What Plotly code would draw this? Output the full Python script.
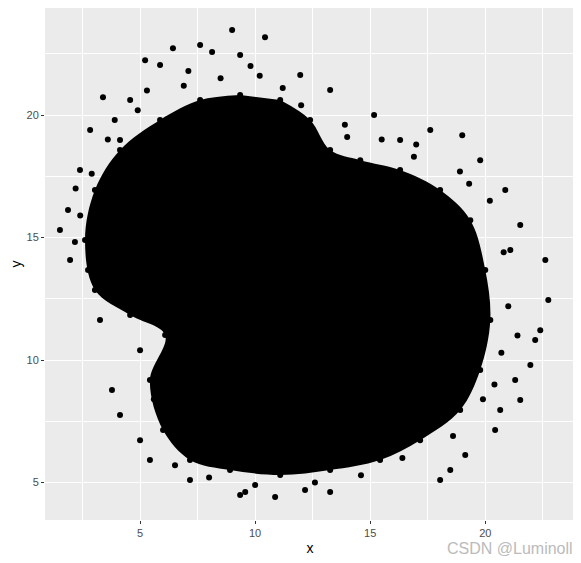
import plotly.graph_objects as go

# dense core outline (data units)
core_x = [9.35, 7.61, 5.87, 4.13, 3.04, 2.61, 3.04, 4.57, 6.09, 5.43, 6.0, 7.17, 8.91, 11.09,
          13.26, 15.43, 17.17, 18.91, 19.78, 20.22, 20.0, 19.35, 18.04, 16.3, 14.57, 13.26,
          12.39, 11.09]
core_y = [20.82, 20.61, 19.8, 18.57, 16.94, 14.9, 12.86, 11.84, 11.02, 9.18, 7.14, 5.92, 5.51,
          5.31, 5.51, 5.92, 6.73, 7.96, 9.59, 11.63, 13.67, 15.71, 16.94, 17.76, 18.16, 18.57,
          19.8, 20.61]

# scattered points around the edge
pts_x = [9.0, 10.43, 6.43, 7.61, 8.13, 9.35, 5.22, 5.87, 4.57, 3.39, 2.83, 2.39, 1.87, 2.17,
         2.83, 2.74, 3.26, 3.78, 4.13, 5.0, 5.43, 6.52, 7.17, 9.35, 9.57, 10.87, 12.17, 13.26,
         18.04, 19.13, 20.43, 21.96, 22.39, 22.74, 22.61, 21.52, 20.87, 19.78, 19.0, 17.61,
         16.3, 15.17, 13.26, 11.96, 18.48, 21.52, 21.3, 3.26, 4.13, 1.52, 1.96, 20.65, 22.17,
         21.09,
         8.5, 10.2, 6.9, 4.9, 3.6, 2.9, 2.4, 3.3, 4.2, 5.0, 5.6, 6.8, 8.0, 10.0, 12.6, 14.6,
         16.4, 18.6, 19.9, 20.7, 21.0, 20.8, 20.2, 18.9, 17.0, 15.5, 13.9, 12.0, 11.2, 7.1,
         5.3, 3.9, 2.2, 20.4, 21.4, 19.3, 16.9, 14.0, 9.8, 6.2]
pts_y = [23.47, 23.18, 22.73, 22.86, 22.57, 22.45, 22.24, 22.04, 20.61, 20.73, 19.39, 17.76,
         16.12, 14.82, 14.49, 13.67, 11.63, 8.78, 7.76, 6.73, 5.92, 5.71, 5.1, 4.49, 4.61, 4.41,
         4.69, 4.61, 5.1, 6.12, 7.14, 9.8, 11.22, 12.45, 14.08, 15.51, 16.94, 18.16, 19.18,
         19.39, 18.98, 20.0, 21.02, 21.63, 5.51, 8.37, 9.18, 16.94, 18.98, 15.31, 14.08, 7.96,
         10.82, 14.49,
         21.5, 21.6, 21.2, 20.2, 19.0, 17.6, 15.9, 13.9, 12.3, 10.4, 8.4, 6.4, 5.2, 4.9, 5.0,
         5.3, 6.0, 6.9, 8.4, 10.3, 12.2, 14.4, 16.5, 17.7, 18.8, 19.0, 19.6, 20.4, 21.1, 21.8,
         21.0, 19.8, 17.0, 9.0, 11.0, 17.2, 18.3, 19.1, 22.0, 7.6]

fig = go.Figure()
fig.add_trace(go.Scatter(x=core_x, y=core_y, fill="toself", mode="markers",
                         fillcolor="black", marker=dict(color="black", size=6),
                         line=dict(color="black", shape="spline"), hoverinfo="skip"))
fig.add_trace(go.Scatter(x=pts_x, y=pts_y, mode="markers",
                         marker=dict(color="black", size=6)))

axis = dict(showgrid=True, gridcolor="white", gridwidth=1.2, zeroline=False, automargin=False,
            ticks="outside", ticklen=3, tickcolor="#333333",
            tickfont=dict(size=11, color="#4d4d4d"),
            minor=dict(showgrid=True, gridcolor="white", gridwidth=0.6, dtick=2.5),
            dtick=5, title_font=dict(size=14, color="black"), title_standoff=4)
fig.update_xaxes(axis, range=[0.87, 23.9], title_text="x", tick0=0, minor_tick0=0)
fig.update_yaxes(axis, range=[3.47, 24.37], title_text="y", tick0=0, minor_tick0=0)
fig.update_layout(width=581, height=563, showlegend=False,
                  plot_bgcolor="#EBEBEB", paper_bgcolor="white",
                  margin=dict(l=37, r=14, t=0, b=51),
                  font=dict(family="Liberation Sans"))
fig.add_annotation(text="CSDN @Luminoll", xref="paper", yref="paper", x=1.0, y=-0.035,
                   xanchor="right", yanchor="top", showarrow=False,
                   font=dict(size=16, color="#bbbbbb"))
fig.write_html("out.html")
